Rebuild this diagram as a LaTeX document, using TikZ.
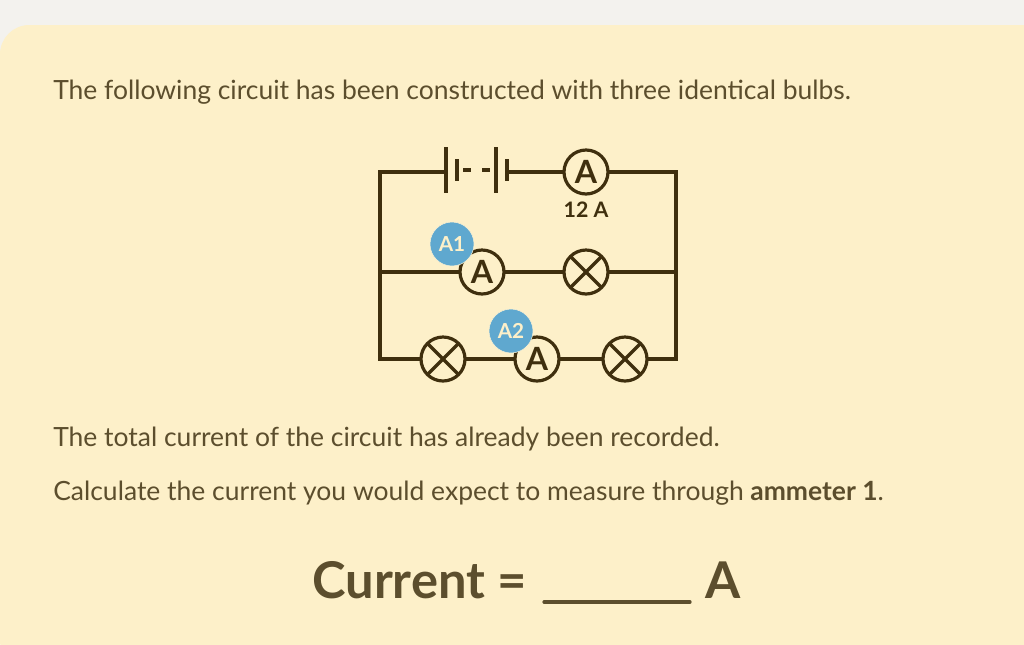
\documentclass[tikz,border=0pt]{standalone}
\usepackage{fontspec}
\setmainfont{Lato}
\definecolor{paper}{HTML}{FDF0C9}
\definecolor{strip}{HTML}{F3F2EE}
\definecolor{wire}{HTML}{3F2F0E}
\definecolor{ink}{HTML}{5C4E2D}
\definecolor{badge}{HTML}{5FA8CF}
\tikzset{
  question/.style={anchor=base west, inner sep=0pt, text=ink, font=\fontsize{19.85}{24}\selectfont},
  bigtext/.style={anchor=base west, inner sep=0pt, text=ink, font=\fontsize{38}{42}\bfseries\selectfont},
  meter/.style={circle, draw=wire, line width=2.4pt, fill=paper, minimum size=33pt, inner sep=0pt, text=wire, font=\fontsize{24}{24}\bfseries\selectfont},
  lamp/.style={circle, draw=wire, line width=2.4pt, fill=paper, minimum size=33pt, inner sep=0pt,
    path picture={\draw[wire, line width=2.5pt] (path picture bounding box.south west) -- (path picture bounding box.north east)
      (path picture bounding box.north west) -- (path picture bounding box.south east);}},
  tallplate/.style={fill=wire, inner sep=0pt, minimum width=2.9pt, minimum height=34pt},
  shortplate/.style={fill=wire, inner sep=0pt, minimum width=2.9pt, minimum height=16.5pt},
  tag/.style={circle, fill=badge, draw=paper!80!white, line width=0.4pt, minimum size=33pt, inner sep=0pt, text=paper, font=\fontsize{15.5}{17}\bfseries\selectfont},
  lead/.style={draw=wire, line width=2.3pt, line join=miter}
}
\begin{document}
\begin{tikzpicture}[x=0.75pt, y=-0.75pt]
  \useasboundingbox (0,0) rectangle (1024,644);
  \fill[strip] (0,0) rectangle (1024,644);
  \fill[paper, rounded corners=22] (0,670) -- (0,25) -- (1050,25) -- (1050,670) -- cycle;

  \node [question] (line1) at (53,99.5) {The following circuit has been constructed with three identical bulbs.};
  \node [question] (line2) at (53,446.5) {The total current of the circuit has already been recorded.};
  \node [question] (line3) at (53,500.5) {Calculate the current you would expect to measure through \textbf{ammeter 1}.};
  \node [bigtext] (answer) at (312,598) {Current =};
  \node [bigtext] (unit) at (705,598) {A};
  \coordinate (blankleft) at (544,602);
  \coordinate (blankright) at (690,602);
  \draw[ink, line width=2.4pt, line cap=round] (blankleft) -- (blankright);

  \coordinate (topleft) at (380,172);
  \coordinate (topright) at (676,172);
  \coordinate (midleft) at (380,272);
  \coordinate (midright) at (676,272);
  \coordinate (lowleft) at (380,359);
  \coordinate (lowright) at (676,359);

  \node [tallplate] (cellAlong) at (446,170) {};
  \node [shortplate] (cellAshort) at (457,170) {};
  \node [tallplate] (cellBlong) at (496,170) {};
  \node [shortplate] (cellBshort) at (507,170) {};

  \draw[lead] (cellAlong.east |- topleft) -- (topleft) -- (lowleft) -- (lowright) -- (topright) -- (cellBshort.west |- topright);
  \draw[lead] (midleft) -- (midright);
  \draw[wire, line width=2.4pt, dash pattern=on 6pt off 8.25pt, dash phase=9.75pt] (cellAshort.center) -- (cellBlong.center);

  \node [meter] (meter0) at (586,172) {A};
  \node [meter] (meter1) at (482,272) {A};
  \node [meter] (meter2) at (537,359) {A};
  \node [lamp] (lamp0) at (586,272) {};
  \node [lamp] (lamp1) at (443,359) {};
  \node [lamp] (lamp2) at (625,359) {};

  \node [text=wire, font=\fontsize{16}{18}\bfseries\selectfont] (reading) at (586,210) {12 A};
  \node [tag] (tag1) at (452,244) {A1};
  \node [tag] (tag2) at (511,331) {A2};
\end{tikzpicture}
\end{document}
